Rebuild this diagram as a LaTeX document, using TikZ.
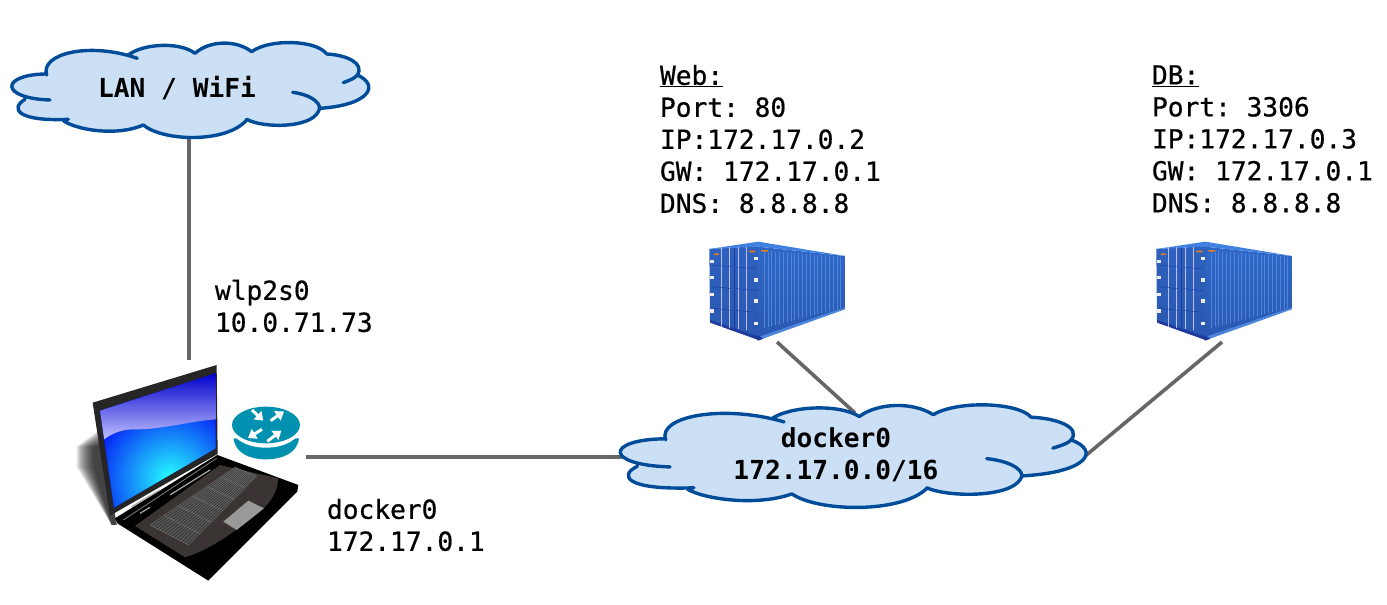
\documentclass[tikz,border=0pt]{standalone}
\usepackage{fontspec}
\setmainfont{DejaVu Sans Mono}
\newfontface\medmono{DejaVu Sans Mono}[FakeBold=0.6]
\usetikzlibrary{arrows.meta}
\definecolor{cloudfill}{HTML}{CCE0F5}
\definecolor{cloudline}{HTML}{004C99}
\definecolor{wire}{HTML}{666666}
\definecolor{teal1}{HTML}{0090B0}
\definecolor{sideblue}{HTML}{3068C8}
\definecolor{sidedark}{HTML}{2A58B0}
\definecolor{frontblue}{HTML}{2E62BE}
\definecolor{topblue}{HTML}{3F80E0}
\definecolor{ribblue}{HTML}{4C86DC}
\definecolor{darkblue}{HTML}{1E3A9C}
\definecolor{palm}{HTML}{3A3533}
\definecolor{keybg}{HTML}{3E3E3E}
\definecolor{keyline}{HTML}{7A7A7A}
\tikzset{
  wireline/.style={draw=wire,line width=3.6pt},
  lbl/.style={inner sep=0pt,outer sep=0pt,font=\fontsize{26.2}{32}\selectfont\medmono\frenchspacing,align=left,anchor=west},
  ctr/.style={inner sep=0pt,outer sep=0pt,font=\fontsize{26.2}{32}\selectfont\bfseries\frenchspacing,align=center},
  rarrow/.style={draw=white,line width=3pt,-{Triangle[length=8pt,width=11pt]}},
}
\newcommand{\cloudbody}[4]{%
\begin{scope}[shift={(#1,#2)},x=#3pt,y=-#4pt]
\fill[cloudfill] (140,135) .. controls (120,70) and (270,35) .. (385,75)
  .. controls (430,40) and (540,35) .. (585,70)
  .. controls (630,30) and (710,30) .. (755,65)
  .. controls (810,25) and (950,30) .. (980,72)
  .. controls (1040,75) and (1095,100) .. (1072,135)
  .. controls (1140,165) and (1110,225) .. (960,235)
  -- (955,245) .. controls (930,295) and (790,295) .. (740,270)
  .. controls (680,340) and (490,335) .. (430,285)
  .. controls (350,320) and (230,300) .. (190,272)
  -- (205,268) .. controls (50,275) and (30,235) .. (75,208)
  -- (150,210) .. controls (0,205) and (0,135) .. (135,132) -- cycle;
\draw[cloudline,line width=3.4pt,line cap=round]
  (140,135) .. controls (120,70) and (270,35) .. (412,85)
  (385,75) .. controls (430,40) and (540,35) .. (585,70)
  (585,70) .. controls (630,30) and (710,30) .. (755,65)
  (755,65) .. controls (810,25) and (950,30) .. (980,72)
  (980,72) .. controls (1040,75) and (1095,100) .. (1072,135)
  .. controls (1065,145) and (1050,150) .. (1030,158)
  (1072,135) .. controls (1140,165) and (1110,225) .. (960,235)
  (878,187) .. controls (940,195) and (970,225) .. (955,245)
  .. controls (930,295) and (790,295) .. (740,268)
  (740,270) .. controls (680,340) and (490,335) .. (430,285)
  (430,285) .. controls (350,320) and (230,300) .. (190,272)
  (205,268) .. controls (50,275) and (30,235) .. (75,208)
  (150,210) .. controls (0,205) and (0,135) .. (135,132);
\end{scope}}
\newcommand{\containerbody}[2]{%
\begin{scope}[shift={(#1,#2)},x=.3333pt,y=-.3333pt]
\shade[top color=sideblue,bottom color=sidedark] (205,50) -- (465,78) -- (465,235) -- (205,325) -- cycle;
\shade[top color=frontblue,bottom color=sidedark] (58,57) -- (205,48) -- (205,325) -- (60,275) -- cycle;
\fill[fill=topblue] (58,57) -- (205,35) -- (465,78) -- (205,50) -- cycle;
\foreach \r in {0,...,20} {
  \draw[ribblue,line width=.45pt] ({222+\r*11.5},{62+\r*.9}) -- ({222+\r*11.5},{295-\r*3.0});
}
\draw[darkblue,line width=.6pt] (132,55) -- (132,300);
\fill[darkblue] (60,270) -- (205,320) -- (205,330) -- (60,278) -- cycle;
\fill[ribblue] (208,320) -- (465,232) -- (465,238) -- (208,330) -- cycle;
\foreach \x in {95,118,145,170} \draw[white!75!blue,line width=.6pt] (\x,50) -- (\x,{292+(\x-95)*.1});
\foreach \yy in {105,170,235} {
  \draw[darkblue,line width=.4pt] (68,\yy) -- (125,{\yy+6}) (138,{\yy+6}) -- (200,{\yy+12});
}
\foreach \a/\b in {65/95,65/143,65/193,65/243,198/85,198/150,198/213,198/280}
  \fill[white!85!gray] (\a-6,\b-5) rectangle (\a+6,\b+5);
\fill[orange!60!brown] (72,70) rectangle (86,75) (178,62) rectangle (196,67) (214,60) rectangle (234,65);
\fill[darkblue] (195,322) -- (205,316) -- (220,326) -- (205,332) -- cycle;
\end{scope}}
\begin{document}
\begin{tikzpicture}[x=1pt,y=-1pt]
\useasboundingbox (0,0) rectangle (1387,605);
\fill[white] (0,0) rectangle (1387,605);
% connector ends
\coordinate (lanbottom) at (189,130);
\coordinate (laptopport) at (189,360);
\coordinate (routerport) at (306,457);
\coordinate (dockerleft) at (622,457);
\coordinate (webbottom) at (777,342);
\coordinate (dockertop) at (855,413);
\coordinate (dbbottom) at (1222,342);
\coordinate (dockerright) at (1084,457);
\draw[wireline] (lanbottom) -- (laptopport);
\draw[wireline] (routerport) -- (dockerleft);
\draw[wireline] (webbottom) -- (dockertop);
\draw[wireline] (dbbottom) -- (dockerright);
% clouds
\cloudbody{0}{30}{.3333}{.3333}
\cloudbody{604.8}{391.3}{.435}{.36}
\node[ctr] (lantext) at (177,88) {LAN / WiFi};
\node[ctr] (dockertext) at (836,455) {docker0\\172.17.0.0/16};
% labels
\node[lbl] (wlp) at (215,306) {wlp2s0\\10.0.71.73};
\node[lbl] (dockeraddr) at (327,525) {docker0\\172.17.0.1};
\node[lbl] (web) at (660,139) {\underline{Web:}\\Port: 80\\IP:172.17.0.2\\GW: 172.17.0.1\\DNS: 8.8.8.8};
\node[lbl] (db) at (1152,139) {\underline{DB:}\\Port: 3306\\IP:172.17.0.3\\GW: 172.17.0.1\\DNS: 8.8.8.8};
% containers
\containerbody{690}{230}
\containerbody{1137}{230}
% laptop
\begin{scope}[shift={(60,350)},x=.3333pt,y=-.3333pt]
\foreach \d in {55,50,...,5}
  \fill[black,opacity=.11] ({105-\d},290) -- (125,{290-\d}) -- (170,525) -- (155,525) -- ({105-\d},350) -- cycle;
\fill[black!85] (98,158) -- (470,45) -- (473,312) -- (150,497) -- cycle;
\begin{scope}
\clip (120,182) -- (467,70) -- (467,295) -- (162,473) -- cycle;
\fill[blue!95!black] (100,60) rectangle (480,480);
\shade[inner color=cyan!85!white,outer color=blue!95!black] (330,385) circle (270);
\shade[top color=blue!80!black,bottom color=blue!25!white] (120,182) -- (467,70) -- (467,208)
  .. controls (380,215) and (300,240) .. (220,238) .. controls (180,238) and (150,255) .. (132,268) -- cycle;
\end{scope}
\fill[black] (165,505) -- (472,315) -- (715,405) -- (712,425) -- (445,692) -- (172,520) -- cycle;
\fill[palm] (225,528) -- (480,345) -- (655,385) .. controls (650,450) and (610,480) .. (540,530)
  .. controls (490,570) and (430,605) .. (375,622) -- cycle;
\draw[black!50,line width=.8pt] (190,510) -- (470,325);
\draw[black!35,line width=1.2pt] (215,470) -- (300,420) (330,435) -- (450,360) (240,490) -- (270,472);
\fill[keybg] (270,525) -- (525,352) -- (590,378) -- (385,585) -- cycle;
\foreach \t in {0,1,...,6} {
  \draw[keyline,line width=.35pt] ({270+\t/6*(525-270)},{525+\t/6*(352-525)}) -- ({385+\t/6*(590-385)},{585+\t/6*(378-585)});
}
\foreach \t in {0,1,...,15} {
  \draw[keyline,line width=.35pt] ({270+\t/15*(385-270)},{525+\t/15*(585-525)}) -- ({525+\t/15*(590-525)},{352+\t/15*(378-352)});
}
\fill[black!40] (490,515) -- (565,452) -- (612,475) -- (530,540) -- cycle;
\end{scope}
% router
\begin{scope}[shift={(60,350)},x=.3333pt,y=-.3333pt]
\fill[teal1] (521,265) .. controls (525,310) and (570,328) .. (618,328) .. controls (666,328) and (712,310) .. (717,265) -- cycle;
\fill[white] (618,233) ellipse [x radius=104,y radius=60];
\fill[teal1] (618,225) ellipse [x radius=102,y radius=55];
\draw[rarrow] (576,180) -- (610,212);
\draw[rarrow] (632,212) -- (672,184);
\draw[rarrow] (606,238) -- (564,264);
\draw[rarrow] (622,274) -- (664,242);
\end{scope}
\end{tikzpicture}
\end{document}
